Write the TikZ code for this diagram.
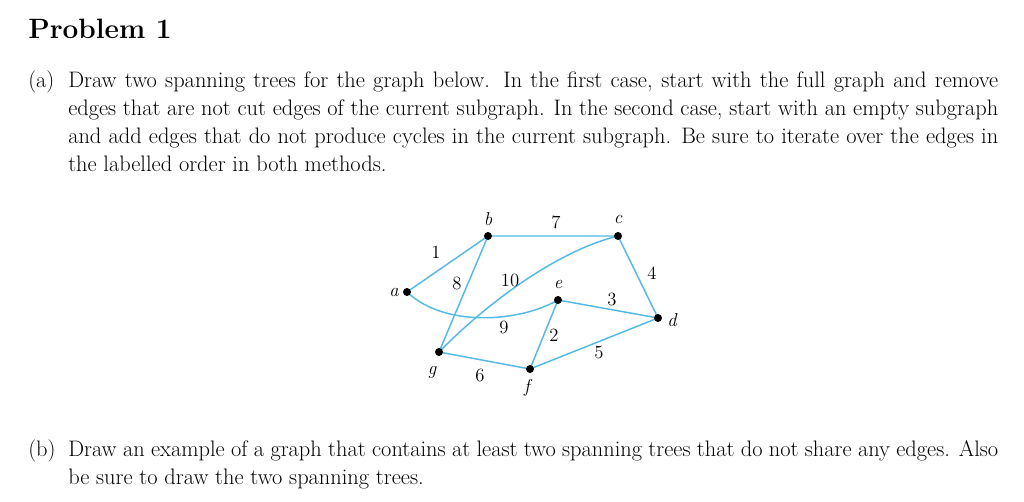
\documentclass[tikz,border=0pt]{standalone}
\begin{document}
\begin{tikzpicture}[x=0.75pt,y=-0.75pt,
 vtx/.style={circle,fill=black,inner sep=0pt,minimum size=6pt},
 edge/.style={draw={rgb,255:red,85;green,185;blue,230},line width=1.1pt},
 lbl/.style={font=\fontsize{14}{16}\selectfont},
 vl/.style={font=\fontsize{14}{16}\selectfont\itshape},
 para/.style={anchor=north west,inner sep=0pt,text width=727.5pt,align=justify,font=\fontsize{16.8}{21}\selectfont}]
\useasboundingbox (0,0) rectangle (1024,501);
\node[anchor=base west,inner sep=0pt,font=\fontsize{21}{25}\selectfont\bfseries] (title) at (28,38) {Problem 1};
\node[para] (pa) at (28,70)
 {\hangindent=30pt\hangafter=1\noindent\hbox to 30pt{(a)\hfil}Draw two spanning trees for the graph below. In the first case, start with the full graph and remove edges that are not cut edges of the current subgraph. In the second case, start with an empty subgraph and add edges that do not produce cycles in the current subgraph. Be sure to iterate over the edges in the labelled order in both methods.\par};
\node[para] (pb) at (28,439)
 {\hangindent=30pt\hangafter=1\noindent\hbox to 30pt{(b)\hfil}Draw an example of a graph that contains at least two spanning trees that do not share any edges. Also be sure to draw the two spanning trees.\par};
\coordinate (a) at (407,292);
\coordinate (b) at (488,236);
\coordinate (c) at (618,236);
\coordinate (e) at (558,300);
\coordinate (d) at (658,318);
\coordinate (g) at (439,352);
\coordinate (f) at (530,369);
\path[edge] (a)--(b) (b)--(c) (c)--(d) (e)--(d) (e)--(f) (f)--(d) (g)--(f) (b)--(g);
\path[edge] (a) .. controls (445,328) and (520,322) .. (e);
\path[edge] (c) .. controls (560,250) and (490,300) .. (g);
\foreach \v in {a,b,c,d,e,f,g} \node[vtx] (n\v) at (\v) {};
\node[vl] at (394,292) {a};
\node[vl] at (488,219) {b};
\node[vl] at (618,219) {c};
\node[vl] at (672,320) {d};
\node[vl] at (558,284) {e};
\node[vl] at (527,388) {f};
\node[vl] at (432,372) {g};
\node[lbl] at (436,252) {1};
\node[lbl] at (554,335) {2};
\node[lbl] at (612,299) {3};
\node[lbl] at (652,273) {4};
\node[lbl] at (599,352) {5};
\node[lbl] at (480,375) {6};
\node[lbl] at (556,222) {7};
\node[lbl] at (457,283) {8};
\node[lbl] at (504,327) {9};
\node[lbl] at (510,280) {10};
\end{tikzpicture}
\end{document}
